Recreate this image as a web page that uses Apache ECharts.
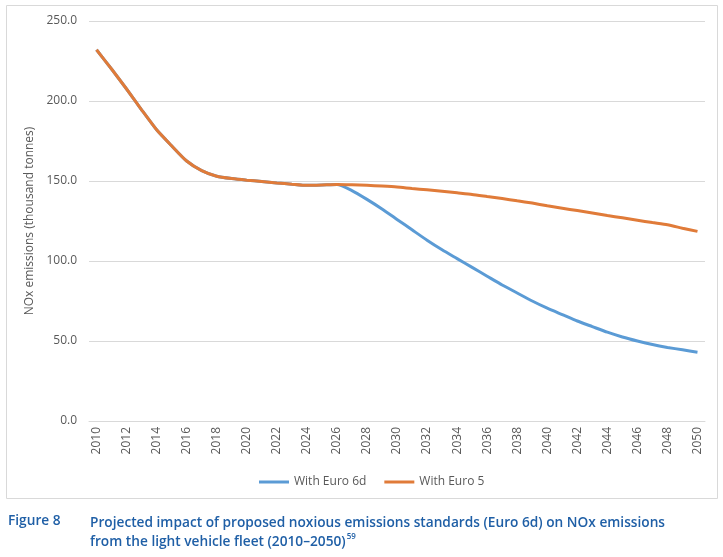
<!DOCTYPE html>
<html>
<head>
    <meta charset="utf-8">
    <script src="https://cdn.jsdelivr.net/npm/echarts@6/dist/echarts.min.js"></script>
    <style>
        html, body { margin: 0; padding: 0; background: #fff; }
        #main { width: 723px; height: 557px; }
    </style>
</head>
<body>
<div id="main"></div>
<script>
    // years 2010..2050
    var years = [];
    for (var y = 2010; y <= 2050; y++) { years.push(String(y)); }

    // with Euro 6d (thousand tonnes)
    var euro6d = [232, 220, 207.5, 194.5, 182, 172, 162.5, 156.5, 153, 151.5,
        150.5, 149.7, 148.8, 148, 147.3, 147.5, 147.8, 144, 138.5, 132.5,
        126, 119.5, 113, 107, 101.5, 96, 90.5, 85, 80, 75,
        70.5, 66.5, 62.5, 59, 55.5, 52.5, 50, 47.8, 46, 44.5, 43];

    // with Euro 5
    var euro5 = [232, 220, 207.5, 194.5, 182, 172, 162.5, 156.5, 153, 151.5,
        150.5, 149.7, 148.8, 148, 147.3, 147.5, 147.8, 147.6, 147.3, 146.8,
        146.2, 145.3, 144.5, 143.6, 142.6, 141.6, 140.3, 139, 137.6, 136.2,
        134.5, 133, 131.5, 130, 128.4, 127, 125.5, 124, 122.6, 120.5, 118.5];

    var chart = echarts.init(document.getElementById('main'));
    var grey = '#595959';
    var font = '"Open Sans", "Noto Sans", sans-serif';
    var capFont = '600 13.7px ' + font;

    chart.setOption({
        animation: false,
        textStyle: { fontFamily: font },
        grid: { left: 89, right: 18, top: 21, bottom: 136 },
        legend: {
            left: 254,
            top: 471,
            icon: 'rect',
            itemWidth: 30,
            itemHeight: 3,
            itemGap: 18,
            textStyle: { color: grey, fontSize: 12, fontFamily: font },
            data: ['With Euro 6d', 'With Euro 5']
        },
        xAxis: {
            type: 'category',
            data: years,
            boundaryGap: true,
            axisLine: { lineStyle: { color: '#d9d9d9' } },
            axisTick: { show: false },
            axisLabel: {
                rotate: 90,
                interval: 1,
                margin: 6,
                color: grey,
                fontSize: 12,
                fontFamily: font
            }
        },
        yAxis: {
            type: 'value',
            min: 0,
            max: 250,
            interval: 50,
            name: 'NOx emissions (thousand tonnes)',
            nameLocation: 'middle',
            nameGap: 49,
            nameTextStyle: { color: grey, fontSize: 12, fontFamily: font },
            axisLine: { show: false },
            axisTick: { show: false },
            splitLine: { lineStyle: { color: '#d9d9d9' } },
            axisLabel: {
                margin: 12,
                color: grey,
                fontSize: 12,
                fontFamily: font,
                formatter: function (v) { return v.toFixed(1); }
            }
        },
        series: [
            {
                name: 'With Euro 6d',
                type: 'line',
                data: euro6d,
                showSymbol: false,
                smooth: 0.2,
                itemStyle: { color: '#5b9bd5' },
                lineStyle: { color: '#5b9bd5', width: 3 }
            },
            {
                name: 'With Euro 5',
                type: 'line',
                data: euro5,
                showSymbol: false,
                smooth: 0.2,
                itemStyle: { color: '#e07b39' },
                lineStyle: { color: '#e07b39', width: 3 }
            }
        ],
        graphic: [
            {
                type: 'rect',
                shape: { x: 6.5, y: 5.5, width: 711, height: 493 },
                style: { fill: 'none', stroke: '#d9d9d9', lineWidth: 1 },
                silent: true
            },
            {
                type: 'text',
                left: 8,
                top: 514,
                style: {
                    text: 'Figure 8',
                    fill: '#1f5fa6',
                    font: capFont
                }
            },
            {
                type: 'text',
                left: 90,
                top: 514,
                style: {
                    text: 'Projected impact of proposed noxious emissions standards (Euro 6d) on NOx emissions\n{b|from the light vehicle fleet (2010–2050)}{sup|59}',
                    fill: '#1f5fa6',
                    font: capFont,
                    lineHeight: 19,
                    rich: {
                        b: { fill: '#1f5fa6', font: capFont, lineHeight: 19 },
                        sup: { fill: '#1f5fa6', font: '600 8px ' + font, verticalAlign: 'top', lineHeight: 19, padding: [0, 0, 8, 1] }
                    }
                }
            }
        ]
    });
</script>
</body>
</html>
